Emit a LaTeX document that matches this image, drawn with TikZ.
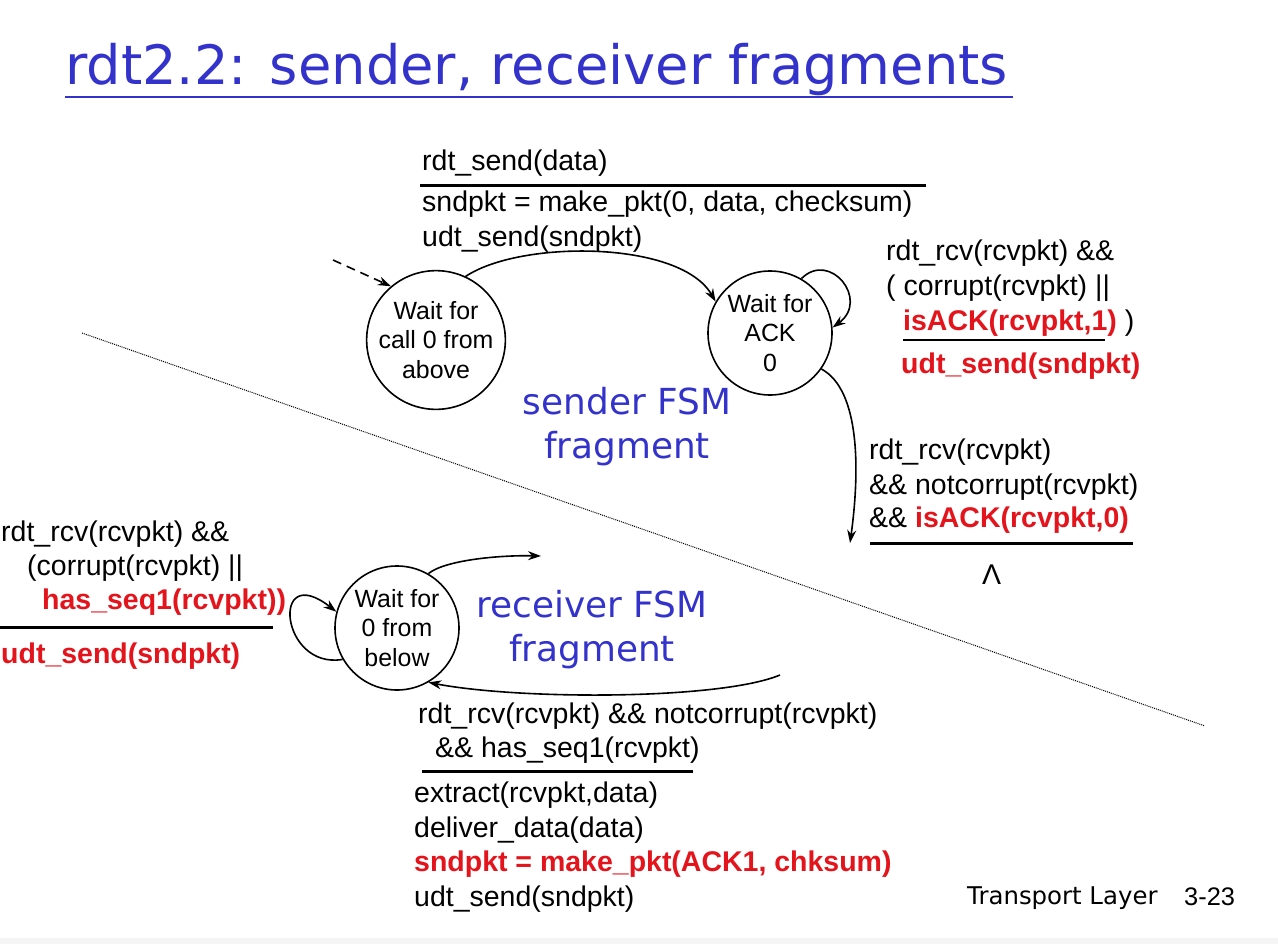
\documentclass[tikz,border=0pt]{standalone}
\usepackage{fontspec}
\setmainfont{Liberation Sans}
\newfontfamily\comic{DejaVu Sans}
\usetikzlibrary{arrows.meta}
\definecolor{tblue}{HTML}{3333CC}
\definecolor{tred}{HTML}{E3141B}
\begin{document}
\begin{tikzpicture}[x=1bp,y=-1bp,
  txt/.style={anchor=west,inner sep=0pt,font=\fontsize{28.6}{32}\selectfont},
  rtxt/.style={txt,text=tred,font=\fontsize{28.6}{32}\selectfont\bfseries},
  st/.style={draw,line width=1.6bp,circle,minimum size=124bp,inner sep=0pt,align=center,font=\fontsize{25}{30}\selectfont},
  lab/.style={align=center,text=tblue,font=\comic\fontsize{36}{44}\selectfont},
  arr/.style={line width=1.6bp,-{Stealth[length=13bp,width=9bp]}},
  bar/.style={line width=3bp}]
\useasboundingbox (0,0) rectangle (1278,944);
\fill[gray!8] (0,938) rectangle (1278,944);
\node[anchor=west,inner sep=0pt,text=tblue,font=\comic\fontsize{54.5}{58}\selectfont] (title) at (65,70) {rdt2.2: sender, receiver fragments};
\draw[tblue,line width=1.5bp] (65,97) -- (1013,97);
% states
\node[st] (A) at (436,340) {Wait for\\call 0 from\\above};
\node[st] (B) at (770,333) {Wait for\\ACK\\0};
\node[st] (C) at (397,628) {Wait for\\0 from\\below};
\coordinate (ds) at (333,260);
\draw[arr,dash pattern=on 9bp off 6bp] (ds) -- (A.130);
\draw[arr] (A.65) .. controls (520,240) and (680,240) .. (B.150);
\draw[arr] (B.60) .. controls (830,250) and (870,300) .. (B.5);
\draw[arr] (B.-35) .. controls (860,390) and (860,470) .. (850,543);
\draw[arr] (C.-150) .. controls (280,670) and (270,560) .. (C.165);
\coordinate (ce) at (541,556);
\draw[arr] (C.60) .. controls (445,560) and (500,555) .. (ce);
\coordinate (bs) at (780,675);
\draw[arr] (bs) .. controls (720,700) and (520,700) .. (C.-60);
\draw[densely dotted,line width=1bp] (82,333) -- (1205,726);
% sender top
\node[txt] (t1) at (422,163) {rdt\_send(data)};
\draw[bar] (420,185) -- (926,185);
\node[txt] (t2) at (422,204) {sndpkt = make\_pkt(0, data, checksum)};
\node[txt] (t3) at (422,239) {udt\_send(sndpkt)};
% sender right loop
\node[txt] (r1) at (886,253) {rdt\_rcv(rcvpkt) \&\&};
\node[txt] (r2) at (886,288) {( corrupt(rcvpkt) ||};
\node[txt] (r3) at (903,323) {\textcolor{tred}{\bfseries isACK(rcvpkt,1)} )};
\draw[line width=2bp] (903,340) -- (1105,340);
\node[rtxt] (r4) at (901,366) {udt\_send(sndpkt)};
% sender down
\node[txt] (d1) at (869,452) {rdt\_rcv(rcvpkt)};
\node[txt] (d2) at (869,487) {\&\& notcorrupt(rcvpkt)};
\node[txt] (d3) at (869,520) {\&\& \textcolor{tred}{\bfseries isACK(rcvpkt,0)}};
\draw[bar] (870,543) -- (1133,543);
\node[txt] (lam) at (982,575) {Λ};
\node[lab] (sl) at (627,427) {sender FSM\\fragment};
% receiver left
\node[txt] (l1) at (1,534) {rdt\_rcv(rcvpkt) \&\&};
\node[txt] (l2) at (27,568) {(corrupt(rcvpkt) ||};
\node[rtxt] (l3) at (42,602) {has\_seq1(rcvpkt))};
\draw[bar] (0,627) -- (273,627);
\node[rtxt] (l4) at (1,656) {udt\_send(sndpkt)};
\node[lab] (rl) at (592,630) {receiver FSM\\fragment};
% receiver bottom
\node[txt] (b1) at (418,716) {rdt\_rcv(rcvpkt) \&\& notcorrupt(rcvpkt)};
\node[txt] (b2) at (435,750) {\&\& has\_seq1(rcvpkt)};
\draw[bar] (422,771) -- (693,771);
\node[txt] (b3) at (414,795) {extract(rcvpkt,data)};
\node[txt] (b4) at (414,830) {deliver\_data(data)};
\node[rtxt] (b5) at (414,864) {sndpkt = make\_pkt(ACK1, chksum)};
\node[txt] (b6) at (414,899) {udt\_send(sndpkt)};
\node[anchor=west,inner sep=0pt,font=\comic\fontsize{24.5}{28}\selectfont] (f1) at (967,898) {Transport Layer};
\node[anchor=west,inner sep=0pt,font=\fontsize{25.5}{28}\selectfont] (f2) at (1184,897) {3-23};
\end{tikzpicture}
\end{document}
